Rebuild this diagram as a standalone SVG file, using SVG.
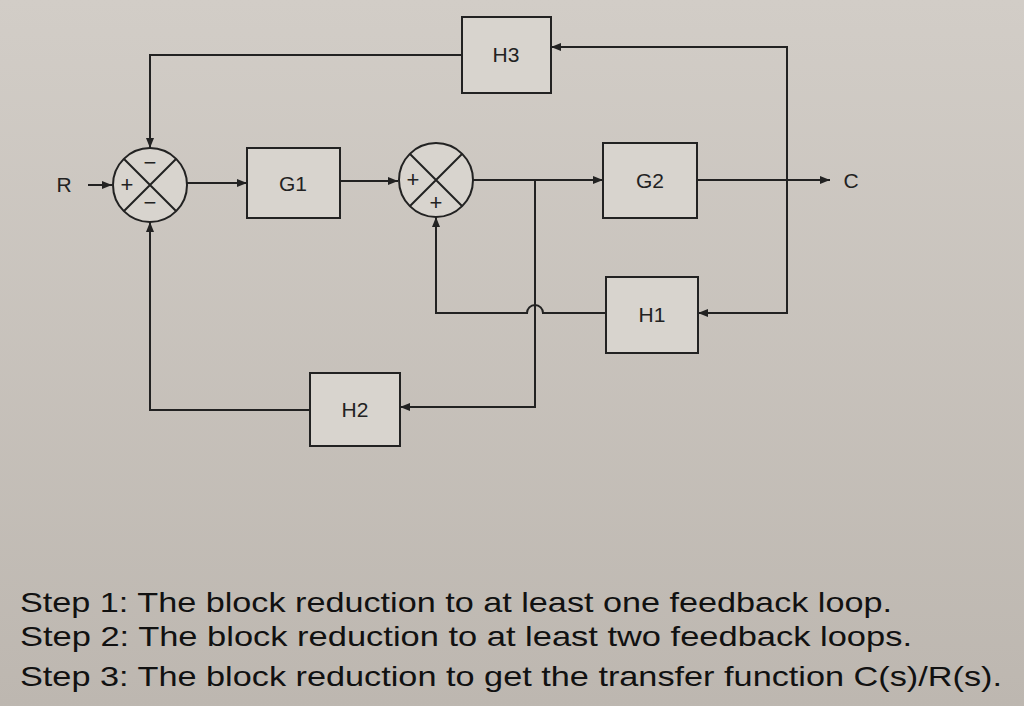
<svg xmlns="http://www.w3.org/2000/svg" width="1024" height="706" viewBox="0 0 1024 706">
<defs>
<linearGradient id="bg" x1="0" y1="0" x2="0" y2="1"><stop offset="0" stop-color="#d2cdc7"/><stop offset="1" stop-color="#bdb7b0"/></linearGradient>
<marker id="a" viewBox="0 0 10 10" refX="10" refY="5" markerWidth="10" markerHeight="10" markerUnits="userSpaceOnUse" orient="auto"><path d="M0,1 L10,5 L0,9 z" fill="#222"/></marker>
</defs>
<style>
.b{fill:#d8d4ce;stroke:#222;stroke-width:2}
.l{fill:none;stroke:#222;stroke-width:2}
.t{font-family:"Liberation Sans",Arial,sans-serif;font-size:21px;fill:#222;text-anchor:middle}
.s{font-family:"Liberation Sans",Arial,sans-serif;font-size:22px;fill:#222;text-anchor:middle}
.st{font-family:"Liberation Sans",Arial,sans-serif;font-size:28px;fill:#111}
</style>
<rect width="1024" height="706" fill="url(#bg)"/>
<g id="connectors">
<path class="l" d="M88,185 H112" marker-end="url(#a)"/>
<path class="l" d="M187,183 H247" marker-end="url(#a)"/>
<path class="l" d="M340,181 H398" marker-end="url(#a)"/>
<path class="l" d="M473,180 H603" marker-end="url(#a)"/>
<path class="l" d="M697,180 H830" marker-end="url(#a)"/>
<path class="l" d="M787,180 V47 H551" marker-end="url(#a)"/>
<path class="l" d="M462,55 H150 V148" marker-end="url(#a)"/>
<path class="l" d="M787,180 V313 H698" marker-end="url(#a)"/>
<path class="l" d="M606,313 H543 A8,8 0 0 0 527,313 H436 V217" marker-end="url(#a)"/>
<path class="l" d="M535,180 V407 H400" marker-end="url(#a)"/>
<path class="l" d="M310,410 H150 V222" marker-end="url(#a)"/>
</g>
<g id="S1"><circle class="b" cx="150" cy="185" r="37"/><path class="l" d="M124,159 L176,211 M176,159 L124,211"/>
<text class="s" x="127" y="192">+</text><text class="s" x="150" y="170">−</text><text class="s" x="150" y="210">−</text></g>
<g id="S2"><circle class="b" cx="436" cy="180" r="37"/><path class="l" d="M410,154 L462,206 M462,154 L410,206"/>
<text class="s" x="413" y="187">+</text><text class="s" x="436" y="210">+</text></g>
<g id="G1"><rect class="b" x="247" y="148" width="93" height="70"/><text class="t" x="293" y="191">G1</text></g>
<g id="G2"><rect class="b" x="603" y="143" width="94" height="75"/><text class="t" x="650" y="188">G2</text></g>
<g id="H3"><rect class="b" x="462" y="17" width="89" height="76"/><text class="t" x="506" y="62">H3</text></g>
<g id="H1"><rect class="b" x="606" y="277" width="92" height="76"/><text class="t" x="652" y="322">H1</text></g>
<g id="H2"><rect class="b" x="310" y="373" width="90" height="73"/><text class="t" x="355" y="417">H2</text></g>
<text class="t" x="64" y="192">R</text>
<text class="t" x="851" y="188">C</text>
<text class="st" x="20" y="612" textLength="872" lengthAdjust="spacingAndGlyphs">Step 1: The block reduction to at least one feedback loop.</text>
<text class="st" x="20" y="646" textLength="892" lengthAdjust="spacingAndGlyphs">Step 2: The block reduction to at least two feedback loops.</text>
<text class="st" x="20" y="686" textLength="982" lengthAdjust="spacingAndGlyphs">Step 3: The block reduction to get the transfer function C(s)/R(s).</text>
</svg>
